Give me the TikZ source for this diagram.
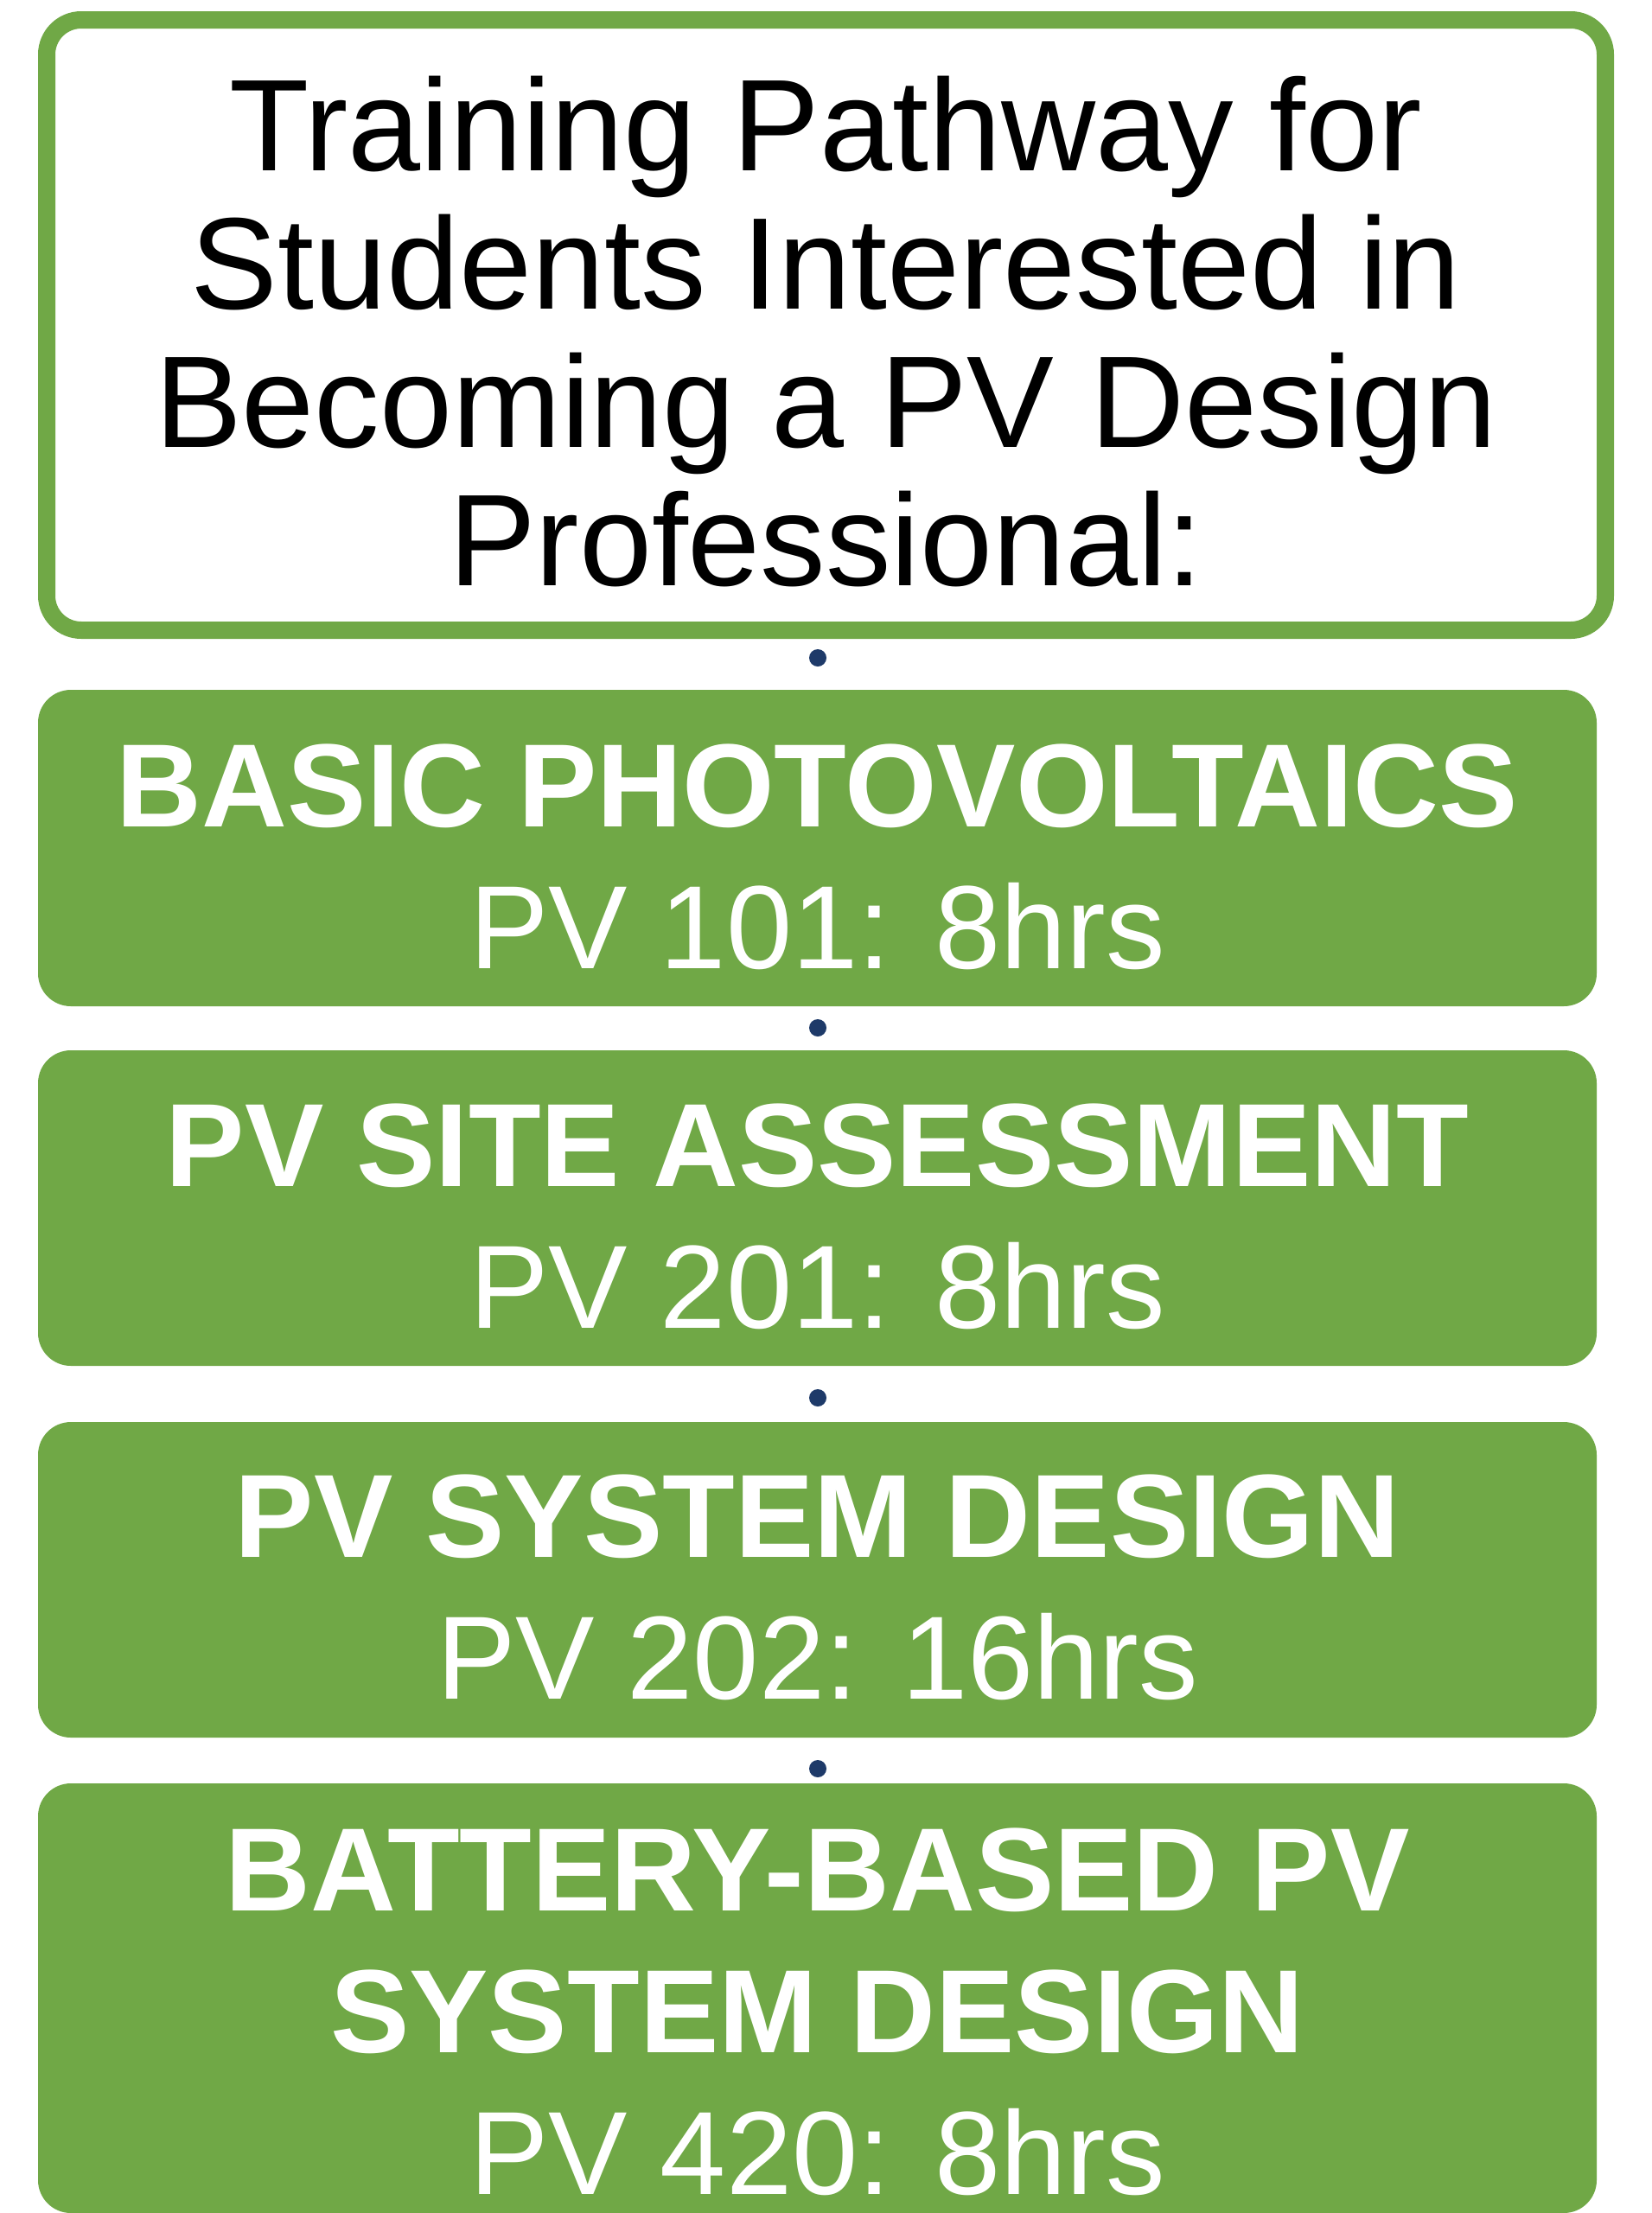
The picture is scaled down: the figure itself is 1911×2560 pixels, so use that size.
\documentclass[tikz,border=0pt]{standalone}
\usepackage{xcolor}
\usepackage{tikz}
\usepackage{fontspec}
\setmainfont{Liberation Sans}

\begin{document}
\begin{tikzpicture}[x=0.5pt,y=0.5pt,yscale=-1,
    titlebox/.style={draw={rgb, 255:red, 112; green, 168; blue, 70 }, line width=10pt, fill=white, rounded corners=20pt, minimum width=901.5pt, minimum height=353pt, inner sep=0pt},
    titletext/.style={inner sep=0pt, align=center, font=\fontsize{75.5}{80}\selectfont},
    coursebox/.style={draw opacity=0, fill={rgb, 255:red, 112; green, 168; blue, 70 }, fill opacity=1, rounded corners=19pt, minimum width=901.5pt, inner sep=0pt},
    coursetext/.style={inner sep=0pt, align=center, text=white, font=\fontsize{68.5}{82}\selectfont},
    stepdot/.style={circle, draw opacity=0, fill={rgb, 255:red, 30; green, 58; blue, 105 }, fill opacity=1, minimum size=10pt, inner sep=0pt}]
        \useasboundingbox (0,0) rectangle (1911,2560);

        %Shape: Rounded Rect [id:title]
        \node [titlebox] (title) at (955.5,376) {};
        \node [titletext] (titlelabel) at (955.5,384) {Training Pathway for\\Students Interested in\\Becoming a PV Design\\Professional:};
        %Shape: Rounded Rect [id:pv101]
        \node [coursebox, minimum height=183pt] (pv101) at (945.5,981) {};
        \node [coursetext] (pv101label) at (945.5,991) {\textbf{BASIC PHOTOVOLTAICS}\\PV 101: 8hrs};
        %Shape: Rounded Rect [id:pv201]
        \node [coursebox, minimum height=182.5pt] (pv201) at (945.5,1397.5) {};
        \node [coursetext] (pv201label) at (945.5,1407.5) {\textbf{PV SITE ASSESSMENT}\\PV 201: 8hrs};
        %Shape: Rounded Rect [id:pv202]
        \node [coursebox, minimum height=182.5pt] (pv202) at (945.5,1827.5) {};
        \node [coursetext] (pv202label) at (945.5,1836.5) {\textbf{PV SYSTEM DESIGN}\\PV 202: 16hrs};
        %Shape: Rounded Rect [id:pv420]
        \node [coursebox, minimum height=248.5pt] (pv420) at (945.5,2311.5) {};
        \node [coursetext] (pv420label) at (945.5,2327.5) {\textbf{BATTERY-BASED PV}\\\textbf{SYSTEM DESIGN}\\PV 420: 8hrs};

        %Shape: Circle [id:dot1]
        \node [stepdot] (dot1) at (946,761) {};
        %Shape: Circle [id:dot2]
        \node [stepdot] (dot2) at (946,1189) {};
        %Shape: Circle [id:dot3]
        \node [stepdot] (dot3) at (946,1617) {};
        %Shape: Circle [id:dot4]
        \node [stepdot] (dot4) at (946,2046) {};
\end{tikzpicture}
\end{document}
